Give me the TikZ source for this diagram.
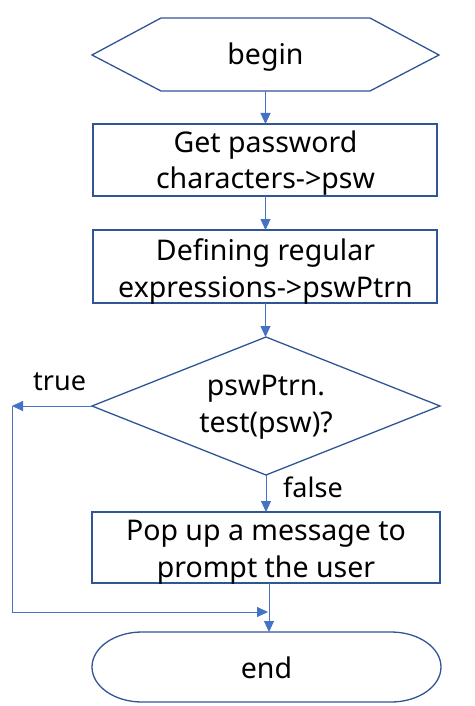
\documentclass[tikz,border=0pt]{standalone}
\usepackage{fontspec}
\setmainfont{Noto Sans}
\usetikzlibrary{shapes.geometric,shapes.misc,arrows.meta}
\definecolor{edgeblue}{HTML}{2F5597}
\definecolor{lineblue}{HTML}{4472C4}
\tikzset{
  shp/.style={draw=edgeblue,line width=1.3pt},
  boxtxt/.style={font=\fontsize{28.5}{37}\selectfont,text=black,align=center,inner sep=0pt},
  conn/.style={draw=lineblue,line width=0.9pt,-{Triangle[length=11pt,width=10pt]}},
  lbl/.style={font=\fontsize{27}{30}\selectfont,text=black,inner sep=0pt}
}
\begin{document}
\begin{tikzpicture}[x=1pt,y=-1pt]
\useasboundingbox (0,0) rectangle (474,706);
% begin hexagon
\draw[shp] (92,55) -- (161,18) -- (370,18) -- (439,55) -- (370,91) -- (161,91) -- cycle;
\node[boxtxt,anchor=base] (begin) at (265.5,65) {begin};
\coordinate (bb) at (265.5,91);
% boxes
\draw[shp] (93,124) rectangle (437,196);
\coordinate (b1t) at (265.5,124); \coordinate (b1b) at (265.5,196);
\node[boxtxt,anchor=base] (b1a) at (265.5,152) {Get password};
\node[boxtxt,anchor=base] (b1c) at (265.5,188) {characters->psw};
\draw[shp] (93,230) rectangle (437,303);
\coordinate (b2t) at (265.5,230); \coordinate (b2b) at (265.5,303);
\node[boxtxt,anchor=base] (b2a) at (265.5,260) {Defining regular};
\node[boxtxt,anchor=base] (b2c) at (265.5,297) {expressions->pswPtrn};
% diamond
\draw[shp] (92,406) -- (266,337) -- (440,406) -- (266,475) -- cycle;
\node[boxtxt,anchor=base] (da) at (266,395) {pswPtrn.};
\node[boxtxt,anchor=base] (dc) at (266,432) {test(psw)?};
\coordinate (dl) at (92,406);
\coordinate (db) at (266,475);
\coordinate (dt) at (265.5,337);
% box 3
\draw[shp] (92,512) rectangle (440,583);
\coordinate (b3t) at (266,512); \coordinate (b3b) at (269,583);
\node[boxtxt,anchor=base] (b3a) at (266,540) {Pop up a message to};
\node[boxtxt,anchor=base] (b3c) at (266,577) {prompt the user};
% end
\draw[shp] (142,632) -- (391,632) arc[start angle=-90,end angle=90,x radius=50,y radius=35] -- (142,702) arc[start angle=90,end angle=270,x radius=50,y radius=35] -- cycle;
\node[boxtxt,anchor=base] (e) at (266.5,678) {end};
\coordinate (et) at (269,632);
% connectors
\draw[conn] (bb) -- (b1t);
\draw[conn] (b1b) -- (b2t);
\draw[conn] (b2b) -- (dt);
\draw[conn] (dl) -- (12,406) coordinate (tl);
\draw[conn] (tl) -- (12,612) -- (268,612) coordinate (jt);
\draw[conn] (db) -- (b3t);
\draw[conn] (b3b) -- (et);
\node[lbl,anchor=base west] (t) at (33,390) {true};
\node[lbl,anchor=base west] (f) at (283,497) {false};
\end{tikzpicture}
\end{document}
